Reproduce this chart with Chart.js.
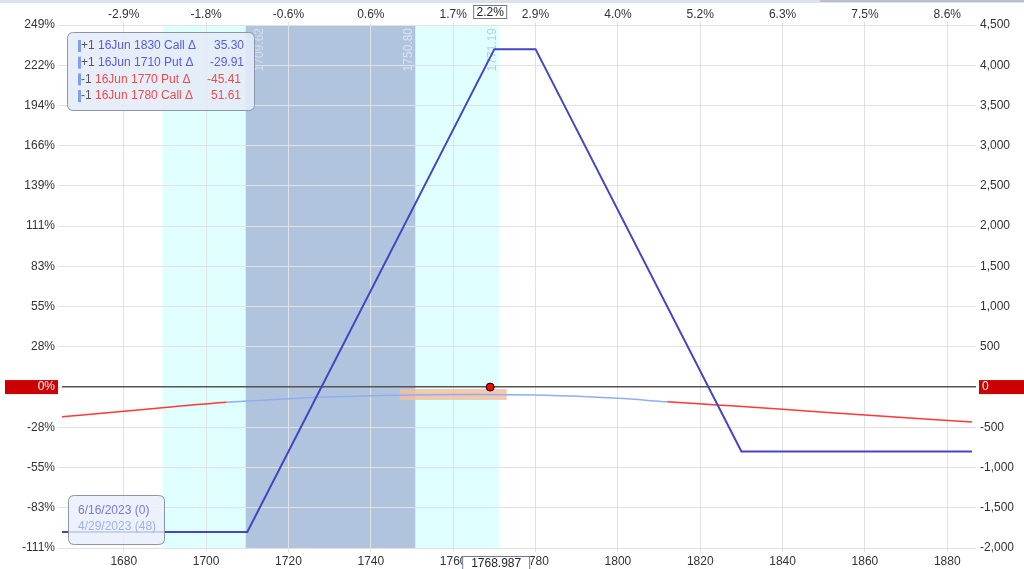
<!DOCTYPE html>
<html>
<head>
<meta charset="utf-8">
<script src="https://cdn.jsdelivr.net/npm/chart.js@4.4.0/dist/chart.umd.min.js"></script>
<style>
  html, body { margin: 0; padding: 0; background: #fff; }
  #wrap { width: 1024px; height: 569px; position: relative; }
</style>
</head>
<body>
<div id="wrap"><canvas id="riskChart" width="1024" height="569"></canvas></div>
<script>
// underlying price ticks (bottom) and % change labels (top)
const priceTicks = [1680, 1700, 1720, 1740, 1760, 1780, 1800, 1820, 1840, 1860, 1880];
const pctChangeLabels = ["-2.9%", "-1.8%", "-0.6%", "0.6%", "1.7%", "2.9%", "4.0%", "5.2%", "6.3%", "7.5%", "8.6%"];

// P&L ticks (right) and return % labels (left)
const pnlTicks = [-2000, -1500, -1000, -500, 0, 500, 1000, 1500, 2000, 2500, 3000, 3500, 4000, 4500];
const returnLabels = ["-111%", "-83%", "-55%", "-28%", "0%", "28%", "55%", "83%", "111%", "139%", "166%", "194%", "222%", "249%"];

// expiration payoff (6/16/2023)
const expiryPrice = [1665, 1710, 1770, 1780, 1830, 1886];
const expiryPnl = [-1800, -1800, 4200, 4200, -800, -800];

// today's curve (4/29/2023)
const todayPrice = [1665, 1680, 1692, 1705, 1720, 1740, 1755, 1765, 1780, 1800, 1812, 1825, 1840, 1860, 1886];
const todayPnl = [-370, -300, -245, -190, -145, -108, -95, -92, -100, -140, -183, -225, -275, -348, -435];

// spot
const spotPrice = 1768.987;
const spotPct = "2.2%";

// std dev bands
const outerBand = [1689.4, 1771.19];
const innerBand = [1709.62, 1750.80];
const bandLabels = ["1709.62", "1750.80", "1771.19"];
const expectedBox = { x: [1747, 1773], y: [-25, -160] };

// legs
const legQty = ["+1", "+1", "-1", "-1"];
const legNames = ["16Jun 1830 Call Δ", "16Jun 1710 Put Δ", "16Jun 1770 Put Δ", "16Jun 1780 Call Δ"];
const legDelta = ["35.30", "-29.91", "-45.41", "51.61"];
const legLong = [true, true, false, false];

const dateLabels = ["6/16/2023 (0)", "4/29/2023 (48)"];

const FONT = "Arial, 'Liberation Sans', sans-serif";

function roundRect(ctx, x, y, w, h, r) {
  ctx.beginPath();
  ctx.moveTo(x + r, y);
  ctx.lineTo(x + w - r, y);
  ctx.quadraticCurveTo(x + w, y, x + w, y + r);
  ctx.lineTo(x + w, y + h - r);
  ctx.quadraticCurveTo(x + w, y + h, x + w - r, y + h);
  ctx.lineTo(x + r, y + h);
  ctx.quadraticCurveTo(x, y + h, x, y + h - r);
  ctx.lineTo(x, y + r);
  ctx.quadraticCurveTo(x, y, x + r, y);
  ctx.closePath();
}

// shaded bands under the grid
const bandsPlugin = {
  id: "bands",
  beforeDraw(chart) {
    const { ctx, chartArea: a, scales } = chart;
    const x = scales.x;
    ctx.save();
    ctx.fillStyle = "#e0ffff";
    ctx.fillRect(x.getPixelForValue(outerBand[0]), a.top, x.getPixelForValue(outerBand[1]) - x.getPixelForValue(outerBand[0]), a.bottom - a.top);
    ctx.fillStyle = "#b0c4de";
    ctx.fillRect(x.getPixelForValue(innerBand[0]), a.top, x.getPixelForValue(innerBand[1]) - x.getPixelForValue(innerBand[0]), a.bottom - a.top);
    ctx.restore();
  },
  beforeDatasetsDraw(chart) {
    const { ctx, chartArea: a, scales } = chart;
    const x = scales.x, y = scales.y;
    ctx.save();
    // rotated band labels
    ctx.font = "12px " + FONT;
    ctx.textAlign = "right";
    const labelX = [innerBand[0], innerBand[1], outerBand[1]];
    const labelBase = ["top", "bottom", "bottom"];
    const labelCol = ["#d4def0", "#dbe4f2", "#b9cde0"];
    labelX.forEach((v, i) => {
      ctx.save();
      ctx.translate(x.getPixelForValue(v) + (i === 0 ? 8 : -1), a.top + 3);
      ctx.rotate(-Math.PI / 2);
      ctx.textBaseline = labelBase[i];
      ctx.fillStyle = labelCol[i];
      ctx.fillText(bandLabels[i], 0, 0);
      ctx.restore();
    });
    // expected move box
    const x0 = x.getPixelForValue(expectedBox.x[0]), x1 = x.getPixelForValue(expectedBox.x[1]);
    const y0 = y.getPixelForValue(expectedBox.y[0]), y1 = y.getPixelForValue(expectedBox.y[1]);
    ctx.fillStyle = "rgba(244, 190, 160, 0.85)";
    ctx.fillRect(x0, y0, x1 - x0, y1 - y0);
    ctx.restore();
  },
  afterDraw(chart) {
    const { ctx, chartArea: a, scales } = chart;
    const x = scales.x, y = scales.y;
    const zy = y.getPixelForValue(0);
    const sx = x.getPixelForValue(spotPrice);
    ctx.save();
    ctx.font = "12px " + FONT;

    // top strip
    ctx.fillStyle = "#dde1ea";
    ctx.fillRect(0, 0, 1024, 3);
    ctx.fillStyle = "#b7bfcc";
    ctx.fillRect(820, 0, 204, 2);

    // zero markers on both axes
    ctx.fillStyle = "#cc0000";
    ctx.fillRect(5, zy - 7, 53, 14);
    ctx.fillRect(a.right + 7, zy - 7, 1024 - a.right - 7, 14);
    ctx.fillStyle = "#ffffff";
    ctx.textBaseline = "middle";
    ctx.textAlign = "right";
    ctx.fillText(returnLabels[pnlTicks.indexOf(0)], 55, zy);
    ctx.textAlign = "left";
    ctx.fillText("0", a.right + 10, zy);

    // spot boxes
    ctx.textAlign = "center";
    ctx.fillStyle = "#ffffff";
    ctx.fillRect(sx - 17, 5, 34, 14);
    ctx.strokeStyle = "#6b7a90";
    ctx.lineWidth = 1;
    ctx.strokeRect(sx - 16.5, 5.5, 33, 13);
    ctx.fillStyle = "#222";
    ctx.fillText(spotPct, sx, 12.5);

    ctx.fillStyle = "#ffffff";
    ctx.fillRect(sx - 28, 556, 68, 14);
    ctx.strokeRect(sx - 27.5, 556.5, 67, 14);
    ctx.fillStyle = "#222";
    ctx.fillText(spotPrice.toFixed(3), sx + 6, 564);

    // legs box
    roundRect(ctx, 67.5, 32.5, 187, 78, 6);
    ctx.fillStyle = "rgba(228, 236, 248, 0.88)";
    ctx.fill();
    ctx.strokeStyle = "#8a97a8";
    ctx.stroke();
    legNames.forEach((name, i) => {
      const ry = 46 + i * 16.7;
      ctx.fillStyle = "#7f9ff0";
      ctx.fillRect(78, ry - 6, 3, 12);
      ctx.textAlign = "left";
      ctx.fillStyle = "#555";
      ctx.fillText(legQty[i], 81, ry);
      const qw = ctx.measureText(legQty[i] + " ").width;
      ctx.fillStyle = legLong[i] ? "#5a5ae0" : "#ee4b4b";
      ctx.fillText(name, 81 + qw, ry);
      ctx.textAlign = "right";
      ctx.fillText(legDelta[i], legLong[i] ? 244 : 241, ry);
    });

    // dates box
    roundRect(ctx, 68.5, 495.5, 96, 49, 6);
    ctx.fillStyle = "rgba(232, 238, 250, 0.82)";
    ctx.fill();
    ctx.strokeStyle = "#8a97a8";
    ctx.stroke();
    ctx.textAlign = "left";
    ctx.fillStyle = "#7b7bd6";
    ctx.fillText(dateLabels[0], 78, 511);
    ctx.fillStyle = "#9db3f0";
    ctx.fillText(dateLabels[1], 78, 527);

    ctx.restore();
  }
};

const tickFont = { family: FONT, size: 12 };
const gridColor = "#e2e2e2";

new Chart(document.getElementById("riskChart"), {
  type: "scatter",
  data: {
    datasets: [
      {
        label: "spot",
        data: [{ x: spotPrice, y: 0 }],
        pointRadius: 4,
        pointBackgroundColor: "#ff0000",
        pointBorderColor: "#000",
        pointBorderWidth: 1,
        showLine: false,
      },
      {
        label: "expiry",
        data: expiryPrice.map((p, i) => ({ x: p, y: expiryPnl[i] })),
        showLine: true,
        borderColor: "#4444c4",
        borderWidth: 2,
        pointRadius: 0,
      },
      {
        label: "today",
        data: todayPrice.map((p, i) => ({ x: p, y: todayPnl[i] })),
        showLine: true,
        borderWidth: 1.5,
        cubicInterpolationMode: "monotone",
        pointRadius: 0,
        segment: {
          borderColor: (c) => (c.p1.parsed.x <= 1705 || c.p0.parsed.x >= 1812) ? "#ff3838" : "#8eaef2",
        },
      },
    ],
  },
  options: {
    responsive: false,
    animation: false,
    layout: { padding: 0 },
    plugins: { legend: { display: false }, tooltip: { enabled: false } },
    scales: {
      x: {
        type: "linear",
        position: "bottom",
        min: 1665,
        max: 1886,
        afterBuildTicks: (s) => { s.ticks = priceTicks.map((v) => ({ value: v })); },
        afterFit: (s) => { s.height = 21; },
        grid: { color: gridColor, tickLength: 4 },
        border: { display: false },
        ticks: { font: tickFont, color: "#333", padding: 2, maxRotation: 0, callback: (v) => String(v) },
      },
      xTop: {
        type: "linear",
        position: "top",
        min: 1665,
        max: 1886,
        afterBuildTicks: (s) => { s.ticks = priceTicks.map((v) => ({ value: v })); },
        afterFit: (s) => { s.height = 25; },
        grid: { drawOnChartArea: false, color: gridColor, tickLength: 3 },
        border: { display: false },
        ticks: {
          font: tickFont, color: "#333", padding: 0, maxRotation: 0,
          callback: (v) => pctChangeLabels[priceTicks.indexOf(v)],
        },
      },
      y: {
        position: "right",
        min: -2000,
        max: 4500,
        afterBuildTicks: (s) => { s.ticks = pnlTicks.map((v) => ({ value: v })); },
        afterFit: (s) => { s.width = 52; },
        grid: {
          color: (c) => (c.tick && c.tick.value === 0 ? "#555" : gridColor),
          lineWidth: (c) => (c.tick && c.tick.value === 0 ? 1.5 : 1),
          tickLength: 4,
        },
        border: { display: false },
        ticks: {
          font: tickFont, color: "#333", padding: 4,
          callback: (v) => v.toLocaleString("en-US"),
        },
      },
      yPct: {
        position: "left",
        min: -2000,
        max: 4500,
        afterBuildTicks: (s) => { s.ticks = pnlTicks.map((v) => ({ value: v })); },
        afterFit: (s) => { s.width = 62; },
        grid: { drawOnChartArea: false, color: gridColor, tickLength: 4 },
        border: { display: false },
        ticks: {
          font: tickFont, color: "#333", padding: 3,
          callback: (v) => returnLabels[pnlTicks.indexOf(v)],
        },
      },
    },
  },
  plugins: [bandsPlugin],
});
</script>
</body>
</html>
